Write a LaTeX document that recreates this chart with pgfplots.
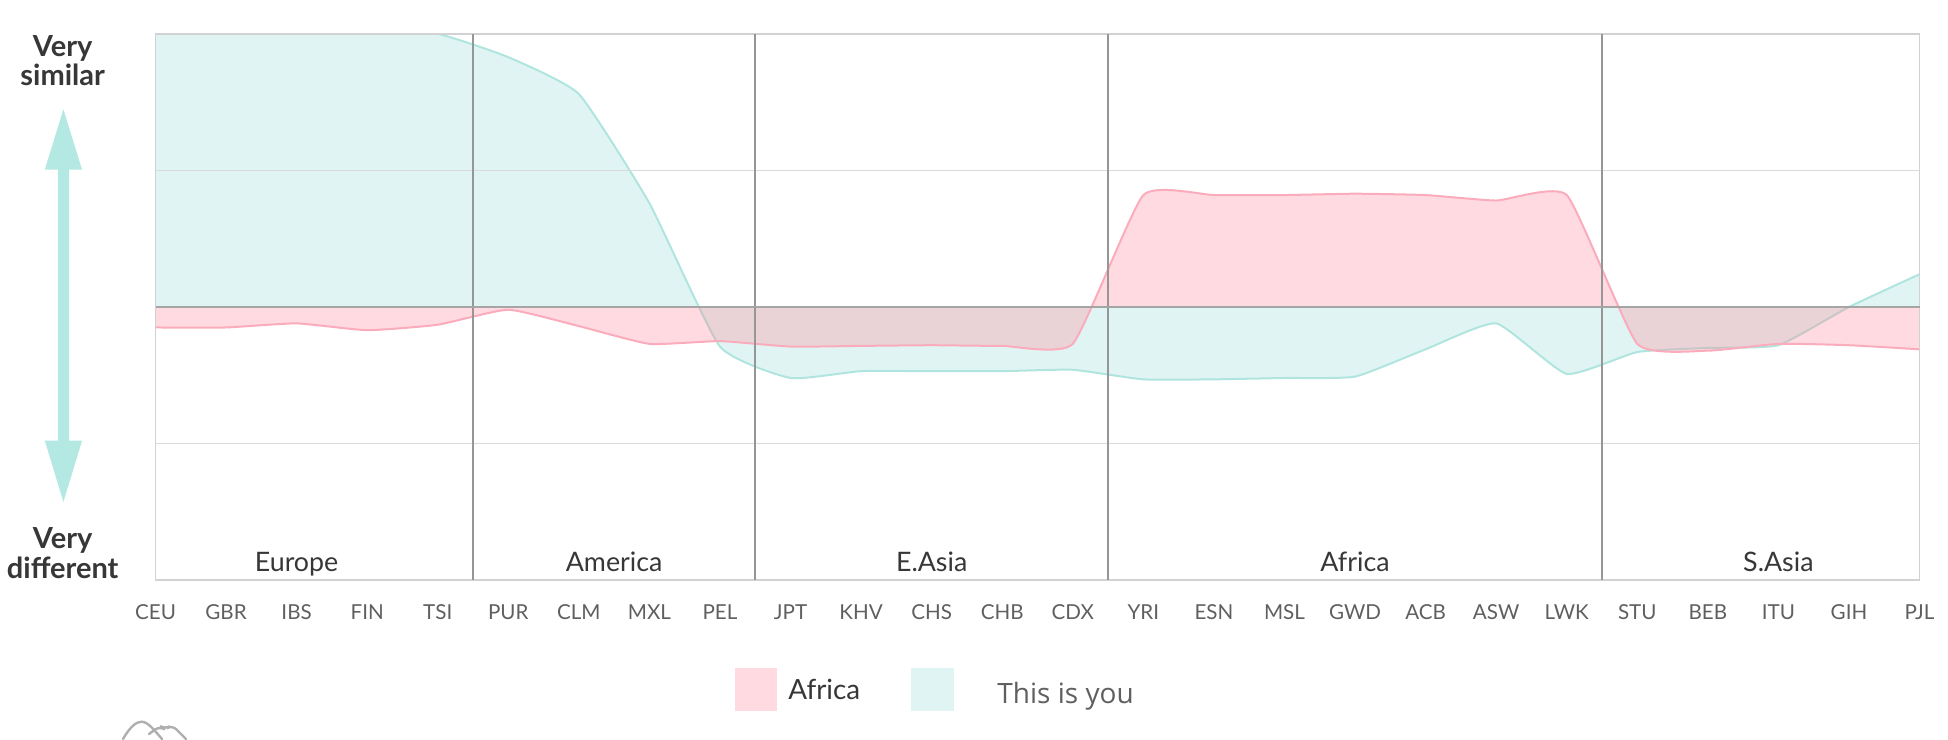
\documentclass[border=0pt]{standalone}
\usepackage{fontspec}
\setmainfont{Lato}
\newfontfamily\osans{Open Sans}
\usepackage{pgfplots}
\usepackage{pgfplotstable}
\pgfplotsset{compat=1.18}
\definecolor{pinkbase}{RGB}{255,132,152}
\definecolor{tealbase}{RGB}{152,222,215}
\definecolor{pinkline}{RGB}{250,172,188}
\definecolor{tealline}{RGB}{176,228,222}
\definecolor{pinksq}{RGB}{255,218,224}
\definecolor{tealsq}{RGB}{224,245,243}
\definecolor{arrowc}{RGB}{180,232,226}
\definecolor{sepc}{RGB}{150,150,150}
\definecolor{gridc}{RGB}{218,218,218}
\definecolor{zeroc}{RGB}{165,165,165}
\definecolor{framec}{RGB}{210,210,210}
\definecolor{txtc}{RGB}{55,55,55}
\definecolor{tickc}{RGB}{95,95,95}
\definecolor{legc}{RGB}{95,95,95}
\definecolor{logoc}{RGB}{175,175,175}

\pgfplotstableread{
x y
0 2.00
1 2.00
2 2.00
3 2.00
4 2.00
5 1.83
6 1.56
7 0.76
8 -0.29
9 -0.52
10 -0.47
11 -0.47
12 -0.47
13 -0.46
14 -0.53
15 -0.53
16 -0.52
17 -0.51
18 -0.31
19 -0.12
20 -0.49
21 -0.33
22 -0.30
23 -0.28
24 0.00
25 0.24
}\youtable

\pgfplotstableread{
x y
0 -0.15
1 -0.15
2 -0.12
3 -0.17
4 -0.13
5 -0.02
6 -0.14
7 -0.27
8 -0.25
9 -0.29
10 -0.285
11 -0.28
12 -0.285
13 -0.27
14 0.82
15 0.82
16 0.82
17 0.83
18 0.82
19 0.78
20 0.82
21 -0.27
22 -0.32
23 -0.27
24 -0.28
25 -0.31
}\africatable

\begin{document}
\begin{tikzpicture}[x=0.5pt,y=0.5pt]
\path[use as bounding box] (0,0) rectangle (1948,739);
\begin{axis}[
  at={(77.75pt,79.5pt)}, anchor=south west,
  scale only axis, width=882pt, height=273pt,
  xmin=0, xmax=25, ymin=-2, ymax=2,
  xtick={0,...,25},
  xticklabels={CEU,GBR,IBS,FIN,TSI,PUR,CLM,MXL,PEL,JPT,KHV,CHS,CHB,CDX,YRI,ESN,MSL,GWD,ACB,ASW,LWK,STU,BEB,ITU,GIH,PJL},
  xticklabel style={font=\fontsize{10.3}{12}\selectfont, text=tickc, anchor=base, yshift=-19.85pt},
  ytick={-1,1}, yticklabels={},
  ymajorgrids,
  major grid style={gridc, line width=0.8pt},
  extra y ticks={0}, extra y tick labels={},
  extra y tick style={ymajorgrids, major grid style={zeroc, line width=1.1pt}},
  extra x ticks={4.5,8.5,13.5,20.5}, extra x tick labels={},
  extra x tick style={xmajorgrids, major grid style={sepc, line width=1.1pt}},
  major tick length=0pt,
  axis line style={framec, line width=0.8pt},
  axis on top,
]
\addplot[draw=none, fill=tealbase, fill opacity=0.3, smooth, tension=0.28] table[x=x,y=y] {\youtable} \closedcycle;
\addplot[tealline, line width=1pt, smooth, tension=0.28] table[x=x,y=y] {\youtable};
\addplot[draw=none, fill=pinkbase, fill opacity=0.3, smooth, tension=0.28] table[x=x,y=y] {\africatable} \closedcycle;
\addplot[pinkline, line width=1pt, smooth, tension=0.28] table[x=x,y=y] {\africatable};

\node[font=\fontsize{13.4}{16}\selectfont, text=txtc, anchor=base, inner sep=0pt, yshift=4.2pt] at (axis cs:2,-2) {Europe};
\node[font=\fontsize{13.4}{16}\selectfont, text=txtc, anchor=base, inner sep=0pt, yshift=4.2pt] at (axis cs:6.5,-2) {America};
\node[font=\fontsize{13.4}{16}\selectfont, text=txtc, anchor=base, inner sep=0pt, yshift=4.2pt] at (axis cs:11,-2) {E.Asia};
\node[font=\fontsize{13.4}{16}\selectfont, text=txtc, anchor=base, inner sep=0pt, yshift=4.2pt] at (axis cs:17,-2) {Africa};
\node[font=\fontsize{13.4}{16}\selectfont, text=txtc, anchor=base, inner sep=0pt, yshift=4.2pt] at (axis cs:23,-2) {S.Asia};
\end{axis}

% side labels and arrow
\node[font=\bfseries\fontsize{14.5}{17}\selectfont, text=txtc, anchor=base, inner sep=0pt] at (62.7,682.3) {Very};
\node[font=\bfseries\fontsize{14.5}{17}\selectfont, text=txtc, anchor=base, inner sep=0pt] at (62.7,653.3) {similar};
\node[font=\bfseries\fontsize{14.5}{17}\selectfont, text=txtc, anchor=base, inner sep=0pt] at (62.7,190) {Very};
\node[font=\bfseries\fontsize{14.5}{17}\selectfont, text=txtc, anchor=base, inner sep=0pt] at (62.7,160) {different};
\fill[arrowc] (63.4,629.7) -- (82.1,569.3) -- (69.2,569.3) -- (69.2,298.4) -- (82.1,298.4) -- (63.4,237.1) -- (44.8,298.4) -- (58,298.4) -- (58,569.3) -- (44.8,569.3) -- cycle;

% legend
\fill[pinksq] (735,28) rectangle (777,71);
\node[anchor=base west, inner sep=0pt, font=\fontsize{13.9}{16}\selectfont, text=txtc] at (788,39.7) {Africa};
\fill[tealsq] (911,28) rectangle (954,71);
\node[anchor=base west, inner sep=0pt, font=\osans\fontsize{14}{16}\selectfont, text=legc] at (997,35.7) {This is you};

% logo
\draw[logoc, line width=1.2pt, line cap=round] (123,0) .. controls (130,12) and (136,17.3) .. (141.7,17.3) .. controls (148,17.3) and (155,8) .. (162,0);
\draw[logoc, line width=1.2pt, line cap=round, rounded corners=3pt] (149,5) -- (160,13) -- (165,9.5) -- (172,14) -- (186,0);
\end{tikzpicture}
\end{document}
